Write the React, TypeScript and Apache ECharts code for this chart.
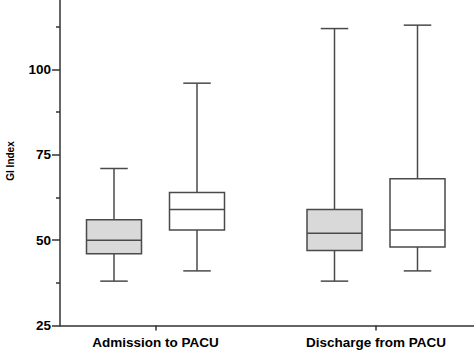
import { useEffect, useRef } from "react";
import * as echarts from "echarts";

const categories = ["Admission to PACU", "Discharge from PACU"];
const yTicks = [25, 50, 75, 100];
// [min, Q1, median, Q3, max]
const grayBoxes = [
  [38, 46, 50, 56, 71],
  [38, 47, 52, 59, 112],
];
const whiteBoxes = [
  [41, 53, 59, 64, 96],
  [41, 48, 53, 68, 113],
];

const STROKE = "#4a4a4a";
const AXIS = "#333333";
const FONT = "Liberation Sans";

export default function App() {
  const ref = useRef<HTMLDivElement>(null);
  useEffect(() => {
    const chart = echarts.init(ref.current!, null, { renderer: "svg" });
    const BOX_W = 55;
    const mk = (name: string, boxes: number[][], offset: number, fill: string) => ({
      type: "custom",
      name,
      xAxisIndex: 1,
      yAxisIndex: 1,
      data: boxes.map((b, i) => [i, ...b]),
      encode: { x: 0, y: [1, 2, 3, 4, 5] },
      renderItem: (params: any, api: any) => {
        const c = api.value(0);
        const p = [1, 2, 3, 4, 5].map((k) => api.coord([c, api.value(k)]));
        const x = p[0][0] + offset;
        const half = BOX_W / 2;
        const cap = BOX_W / 4;
        const ls = { stroke: STROKE, lineWidth: 1.5 };
        return {
          type: "group",
          children: [
            { type: "line", shape: { x1: x, y1: p[4][1], x2: x, y2: p[3][1] }, style: ls },
            { type: "line", shape: { x1: x, y1: p[1][1], x2: x, y2: p[0][1] }, style: ls },
            { type: "line", shape: { x1: x - cap, y1: p[4][1], x2: x + cap, y2: p[4][1] }, style: ls },
            { type: "line", shape: { x1: x - cap, y1: p[0][1], x2: x + cap, y2: p[0][1] }, style: ls },
            {
              type: "rect",
              shape: { x: x - half, y: p[3][1], width: BOX_W, height: p[1][1] - p[3][1] },
              style: { fill, stroke: STROKE, lineWidth: 1.5 },
            },
            { type: "line", shape: { x1: x - half, y1: p[2][1], x2: x + half, y2: p[2][1] }, style: ls },
          ],
        };
      },
    });

    const top = -15.8;
    const bottom = 25.5;
    chart.setOption({
      animation: false,
      grid: [
        { left: 60, right: 0, top, bottom, outerBoundsMode: "none", containLabel: false },
        { left: 45.25, right: -12.25, top, bottom, outerBoundsMode: "none", containLabel: false },
      ],
      xAxis: [
        {
          gridIndex: 0,
          type: "value",
          min: 0,
          max: 1,
          axisLine: { show: true, lineStyle: { color: AXIS, width: 1.5 } },
          axisTick: { show: false },
          axisLabel: { show: false },
          splitLine: { show: false },
        },
        {
          gridIndex: 1,
          type: "category",
          data: categories,
          axisLine: { show: false },
          axisTick: { show: true, alignWithLabel: true, length: 5, lineStyle: { color: AXIS, width: 1.5 } },
          axisLabel: { margin: 10, color: "#000", fontWeight: "bold", fontSize: 13.5, fontFamily: FONT },
          splitLine: { show: false },
        },
      ],
      yAxis: [
        {
          gridIndex: 0,
          type: "value",
          min: 25,
          max: 125,
          interval: 25,
          axisLine: { show: true, lineStyle: { color: AXIS, width: 1.5 } },
          axisTick: { show: true, length: 8, lineStyle: { color: AXIS, width: 1.5 } },
          minorTick: { show: true, splitNumber: 2, length: 4, lineStyle: { color: AXIS, width: 1.5 } },
          axisLabel: {
            margin: 9,
            color: "#000",
            fontWeight: "bold",
            fontSize: 13.5,
            fontFamily: FONT,
            formatter: (v: number) => (yTicks.includes(v) ? String(v) : ""),
          },
          splitLine: { show: false },
        },
        {
          gridIndex: 1,
          type: "value",
          min: 25,
          max: 125,
          show: false,
        },
      ],
      graphic: [
        {
          type: "text",
          x: 10.5,
          y: 161,
          rotation: Math.PI / 2,
          style: {
            text: "GI Index",
            fontSize: 10,
            fontWeight: "bold",
            fontFamily: FONT,
            fill: "#000",
            align: "center",
            verticalAlign: "middle",
          },
        },
      ],
      series: [mk("gray", grayBoxes, -41.5, "#d9d9d9"), mk("white", whiteBoxes, 41.5, "#ffffff")],
    });
    return () => chart.dispose();
  }, []);
  return (
    <div
      ref={ref}
      style={{ position: "fixed", left: 0, top: 0, width: 474, height: 351, background: "#fff" }}
    />
  );
}
